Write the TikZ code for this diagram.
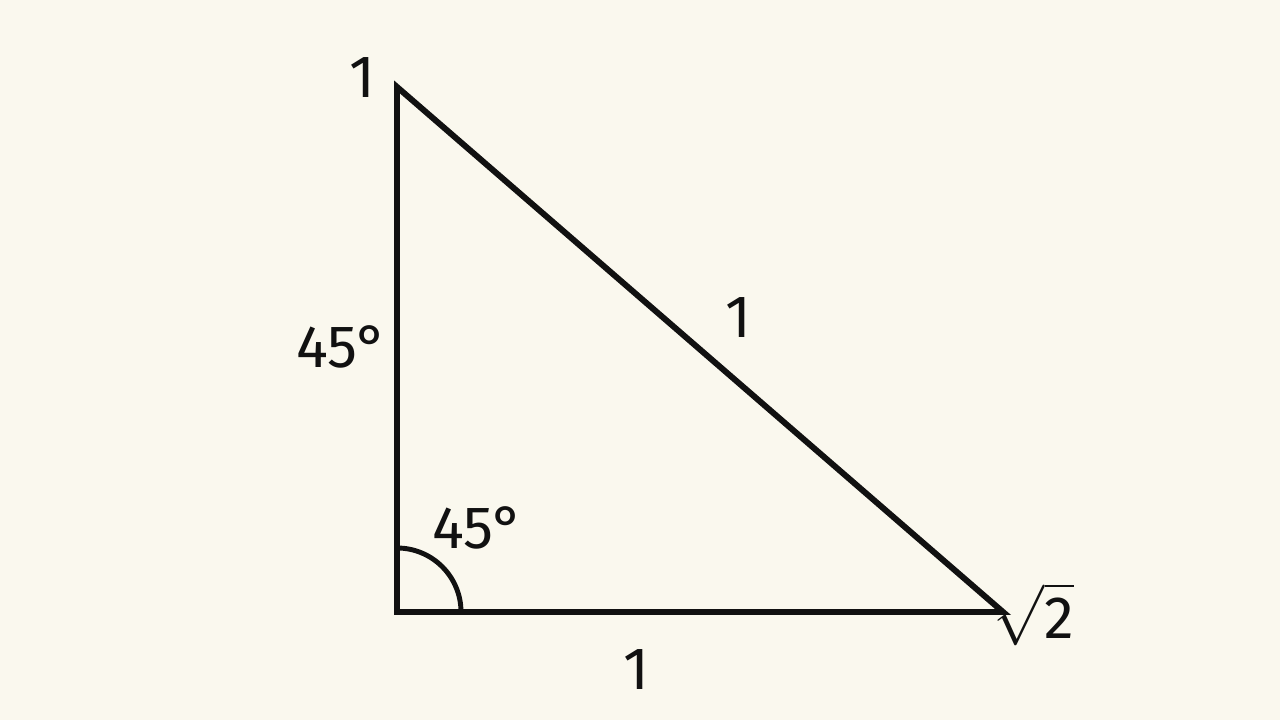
\documentclass[tikz,border=0pt]{standalone}
\usepackage{fontspec}
\setmainfont{Fira Sans}
\usepackage{amsmath}
\usepackage{xcolor}
\usetikzlibrary{calc}
\definecolor{paper}{HTML}{FAF8EE}
\definecolor{ink}{HTML}{111111}
\tikzset{
  side/.style={draw=ink, line width=1.7pt, line cap=round, line join=miter},
  ang/.style={draw=ink, line width=1.4pt},
  lab/.style={text=ink, font=\fontsize{17}{20}\selectfont, inner sep=0pt},
}

\begin{document}
\begin{tikzpicture}
  \fill[paper] (0,0) rectangle (12.8,7.2);
  \useasboundingbox (0,0) rectangle (12.8,7.2);
  \def\ra{0.64}
  \coordinate (A) at (3.97,6.33);
  \coordinate (B) at (3.97,1.08);
  \coordinate (C) at (10.03,1.08);
  \draw[ang] ($(B)+(\ra,0)$) arc (0:90:\ra); % right angle mark
  \draw[side] (A)--(B)--(C)--cycle;
  \node[lab] (topone) at (3.62,6.42) {1};
  \node[lab] (leftang) at (3.42,3.73) {45°};
  \node[lab] (hypone) at (7.38,4.02) {1};
  \node[lab] (rightang) at (4.78,1.92) {45°};
  \node[lab] (roottwo) at (10.34,1.06) {$\sqrt{\text{2}}$};
  \node[lab] (baseone) at (6.36,0.50) {1};
\end{tikzpicture}
\end{document}
